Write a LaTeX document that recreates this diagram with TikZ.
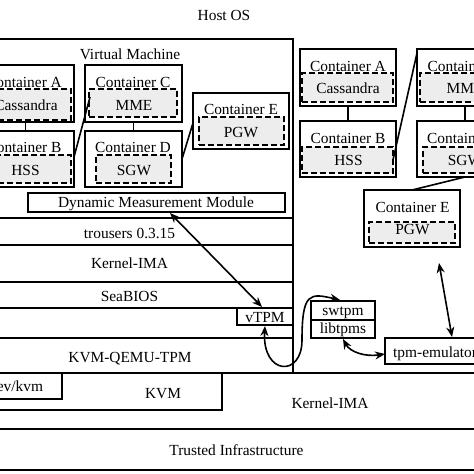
\documentclass[tikz,border=0pt]{standalone}
\usepackage{fontspec}
\setmainfont{Liberation Serif}
\usetikzlibrary{fit,arrows.meta}
\begin{document}
\begin{tikzpicture}[x=1pt,y=-1pt,
  box/.style={draw, line width=1.6pt, inner sep=0pt, outer sep=0pt},
  thickbox/.style={box, line width=2pt},
  dbox/.style={draw, line width=1.6pt, dash pattern=on 6pt off 3pt, fill=black!7, inner sep=0pt, outer sep=0pt},
  txt/.style={font=\fontsize{15.4}{18}\selectfont, inner sep=0pt, anchor=base},
  conn/.style={line width=1.6pt},
  arr/.style={line width=1.6pt, {Stealth[length=10pt,width=8pt]}-{Stealth[length=10pt,width=8pt]}},
]
\useasboundingbox (0,0) rectangle (474,474);
\clip (0,0) rectangle (474,474);

% host layers
\node[box, fit={(-20,373) (490,429)}] (hostk) {};
\node[box, fit={(-20,429) (490,470)}] (trusted) {};
\node[box, fit={(-40,373) (222,410)}] (kvm) {};
\node[box, fit={(-40,373) (62,399)}] (devkvm) {};

% virtual machine
\node[box, fit={(-20,39) (293,373)}] (vm) {};
\node[thickbox, fit={(-20,218) (293,245)}] (trousers) {};
\node[box, fit={(-20,245) (293,282)}] (kima) {};
\node[box, fit={(-20,282) (293,308)}] (seabios) {};
\draw[line width=2pt] (seabios.south west) -- (seabios.south east);
\node[box, fit={(237,308) (293,325)}] (vtpm) {};
\node[box, fit={(-20,338) (293,373)}] (qemu) {};
\node[box, fit={(28,193) (285,212)}] (dmm) {};

% VM containers
\node[box, fit={(-23,65) (74,122)}] (ca) {};
\node[dbox, fit={(-20,89) (71,120)}] (cass) {};
\node[box, fit={(-23,131) (74,187)}] (cb) {};
\node[dbox, fit={(-20,155) (71,183)}] (hss) {};
\node[box, fit={(85,65) (182,122)}] (cc) {};
\node[dbox, fit={(89,89) (177,117)}] (mme) {};
\node[box, fit={(85,131) (182,187)}] (cd) {};
\node[dbox, fit={(96,155) (171,183)}] (sgw) {};
\node[box, fit={(193,93) (289,149)}] (ce) {};
\node[dbox, fit={(199,117) (284,145)}] (pgw) {};

% host containers
\node[box, fit={(300,49) (396,106)}] (ca2) {};
\node[dbox, fit={(302,73) (393,102)}] (cass2) {};
\node[box, fit={(300,121) (396,177)}] (cb2) {};
\node[dbox, fit={(302,147) (393,173)}] (hss2) {};
\node[box, fit={(417,49) (513,106)}] (cc2) {};
\node[dbox, fit={(420,73) (510,102)}] (mme2) {};
\node[box, fit={(417,121) (513,177)}] (cd2) {};
\node[dbox, fit={(423,147) (507,173)}] (sgw2) {};
\node[box, fit={(364,190) (460,247)}] (ce2) {};
\node[dbox, fit={(369,222) (455,243)}] (pgw2) {};

% swtpm / libtpms / emulator
\node[box, fit={(311,301) (375,320)}] (sw) {};
\node[box, fit={(311,320) (375,338)}] (lib) {};
\node[box, fit={(385,338) (490,364)}] (emu) {};

% texts
\node[txt] (thost) at (224,20) {Host OS};
\node[txt] (tvm) at (130,59) {Virtual Machine};
\node[txt] (tca) at (24,87) {Container A};
\node[txt] (tcass) at (26,110) {Cassandra};
\node[txt] (tcb) at (24,152) {Container B};
\node[txt] (thss) at (25.5,175) {HSS};
\node[txt] (tcc) at (133,87) {Container C};
\node[txt] (tmme) at (134,110) {MME};
\node[txt] (tcd) at (133,152) {Container D};
\node[txt] (tsgw) at (134,175) {SGW};
\node[txt] (tce) at (241,114) {Container E};
\node[txt] (tpgw) at (241,137) {PGW};
\node[txt] (tdmm) at (156,207) {Dynamic Measurement Module};
\node[txt] (ttr) at (129.5,238) {trousers 0.3.15};
\node[txt] (tkima) at (129.5,268) {Kernel-IMA};
\node[txt] (tsea) at (129.5,301) {SeaBIOS};
\node[txt] (tvtpm) at (265,322) {vTPM};
\node[txt] (tqemu) at (130,362) {KVM-QEMU-TPM};
\node[txt] (tdev) at (14,391) {/dev/kvm};
\node[txt] (tkvm) at (163,398) {KVM};
\node[txt] (thk) at (330,408) {Kernel-IMA};
\node[txt] (ttrust) at (236.5,455) {Trusted Infrastructure};
\node[txt] (tca2) at (348,71) {Container A};
\node[txt] (tcass2) at (348,93) {Cassandra};
\node[txt] (tcb2) at (348,143) {Container B};
\node[txt] (thss2) at (348.5,165) {HSS};
\node[txt] (tcc2) at (465,71) {Container C};
\node[txt] (tmme2) at (465,93) {MME};
\node[txt] (tcd2) at (465,143) {Container D};
\node[txt] (tsgw2) at (465,165) {SGW};
\node[txt] (tce2) at (412.5,212) {Container E};
\node[txt] (tpgw2) at (412.5,234) {PGW};
\node[txt] (tsw) at (343,315) {swtpm};
\node[txt] (tlib) at (343,333) {libtpms};
\node[txt, anchor=base west] (temu) at (393,357) {tpm-emulator};

% connectors
\draw[conn] (ca.south) -- (cb.north);
\draw[conn] (cc.south) -- (cd.north);
\draw[conn] ([shift={(0,-2)}]cb.east) -- ([shift={(1,-6)}]mme.west);
\draw[conn] (cd.east) -- ([shift={(0,2)}]ce.west);
\draw[conn] (ca2.south) -- (cb2.north);
\draw[conn] (cc2.south) -- (cd2.north);
\draw[conn] (hss2.east) -- ([shift={(0,4)}]cc2.north west);
\draw[conn] (cd2.south) -- (ce2.north);

\draw[arr] ([shift={(13.5,1)}]dmm.south) -- ([shift={(-3,-1)}]vtpm.north);
\draw[arr] ([shift={(27,16)}]ce2.south) -- ([shift={(14.5,-1)}]emu.north);
\draw[arr] ([shift={(0,1)}]vtpm.south) .. controls (262,375) and (302,378) .. (302,340)
  .. controls (302,292) and (310,293) .. ([shift={(-3,-1)}]sw.north);
\draw[arr] ([shift={(0,1)}]lib.south) .. controls (350,352) and (365,357) .. ([shift={(0,3)}]emu.west);
\end{tikzpicture}
\end{document}
